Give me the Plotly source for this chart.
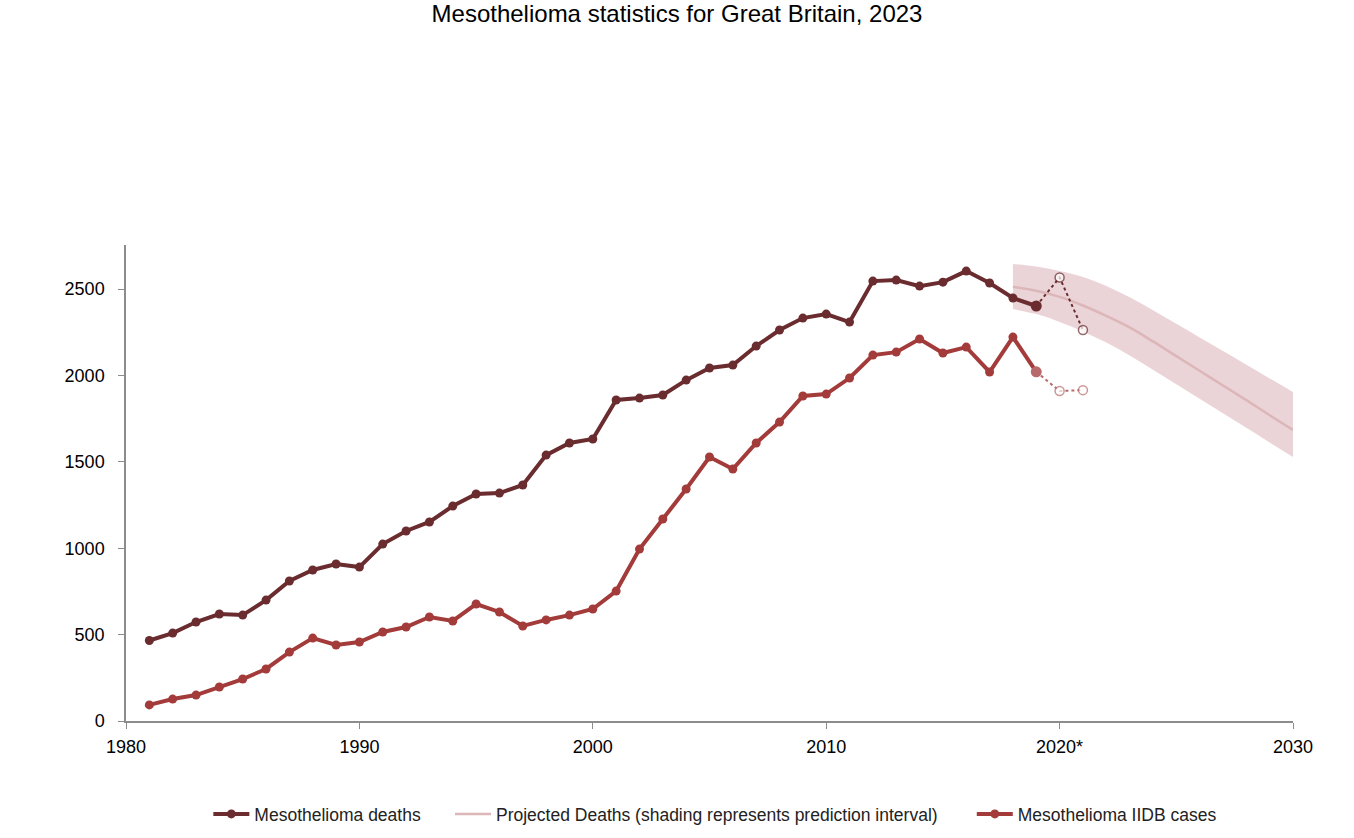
import plotly.graph_objects as go

years = list(range(1981, 2020))
deaths = [466, 509, 573, 619, 613, 700, 810, 874, 909, 891,
          1024, 1100, 1152, 1244, 1314, 1319, 1366, 1539, 1609, 1632,
          1858, 1869, 1887, 1973, 2043, 2060, 2170, 2263, 2332, 2355,
          2309, 2546, 2552, 2517, 2540, 2604, 2535, 2448, 2402]
deaths_prov_years = [2019, 2020, 2021]
deaths_prov = [2402, 2567, 2263]

iidb_years = list(range(1981, 2019))
iidb = [93, 127, 150, 197, 243, 301, 399, 480, 440, 457,
        515, 544, 602, 579, 677, 631, 550, 585, 613, 648,
        752, 995, 1169, 1343, 1528, 1458, 1609, 1730, 1881, 1892,
        1985, 2118, 2135, 2211, 2130, 2164, 2020, 2222]
iidb_last_year = [2019]
iidb_last = [2021]
iidb_prov_years = [2019, 2020, 2021]
iidb_prov = [2021, 1910, 1915]

proj_years = list(range(2018, 2031))
proj_central = [2513, 2490, 2455, 2405, 2345, 2278, 2197, 2112, 2027, 1942, 1857, 1770, 1684]
proj_upper = [2645, 2630, 2605, 2570, 2518, 2452, 2378, 2299, 2220, 2141, 2062, 1983, 1904]
proj_lower = [2384, 2355, 2310, 2255, 2190, 2115, 2033, 1949, 1865, 1781, 1697, 1612, 1528]

x_tick_vals = [1980, 1990, 2000, 2010, 2020, 2030]
x_tick_text = ["1980", "1990", "2000", "2010", "2020*", "2030"]
y_tick_vals = [0, 500, 1000, 1500, 2000, 2500]

C_DEATH = "#6a2c2f"
C_IIDB = "#a23b39"
C_IIDB_LIGHT = "#b86a6a"
C_PROJ = "#dcb6b8"
C_BAND = "rgba(226,196,199,0.72)"

fig = go.Figure()

# Prediction interval band
fig.add_trace(go.Scatter(x=proj_years, y=proj_upper, mode="lines",
                         line=dict(width=0, color=C_BAND, shape="spline"), showlegend=False,
                         hoverinfo="skip"))
fig.add_trace(go.Scatter(x=proj_years, y=proj_lower, mode="lines",
                         line=dict(width=0, color=C_BAND, shape="spline"), fill="tonexty",
                         fillcolor=C_BAND, showlegend=False, hoverinfo="skip"))

# Deaths
fig.add_trace(go.Scatter(x=years, y=deaths, mode="lines+markers",
                         name="Mesothelioma deaths" + "\u00a0" * 5,
                         line=dict(color=C_DEATH, width=4),
                         marker=dict(color=C_DEATH, size=9)))
# Projected central line
fig.add_trace(go.Scatter(x=proj_years, y=proj_central, mode="lines",
                         name="Projected Deaths (shading represents prediction interval)" + "\u00a0" * 6,
                         line=dict(color=C_PROJ, width=2.5, shape="spline")))
# IIDB cases
fig.add_trace(go.Scatter(x=iidb_years, y=iidb, mode="lines+markers",
                         name="Mesothelioma IIDB cases",
                         line=dict(color=C_IIDB, width=4),
                         marker=dict(color=C_IIDB, size=9)))
fig.add_trace(go.Scatter(x=[iidb_years[-1]] + iidb_last_year, y=[iidb[-1]] + iidb_last,
                         mode="lines", line=dict(color=C_IIDB, width=4),
                         showlegend=False))
fig.add_trace(go.Scatter(x=iidb_prov_years, y=iidb_prov, mode="lines+markers",
                         line=dict(color=C_IIDB_LIGHT, width=2, dash="dot"),
                         marker=dict(color=["rgba(0,0,0,0)", "white", "white"], size=[0, 9, 9],
                                     line=dict(color=C_IIDB_LIGHT, width=1.5)),
                         showlegend=False))
fig.add_trace(go.Scatter(x=iidb_last_year, y=iidb_last, mode="markers",
                         marker=dict(color=C_IIDB_LIGHT, size=11), showlegend=False))
# Deaths provisional
fig.add_trace(go.Scatter(x=deaths_prov_years, y=deaths_prov, mode="lines+markers",
                         line=dict(color=C_DEATH, width=2, dash="dot"),
                         marker=dict(color=["rgba(0,0,0,0)", "white", "white"], size=[0, 9, 9],
                                     line=dict(color=C_DEATH, width=1.5)),
                         showlegend=False))
fig.add_trace(go.Scatter(x=[years[-1]], y=[deaths[-1]], mode="markers",
                         marker=dict(color=C_DEATH, size=11), showlegend=False))

fig.update_layout(
    width=1354, height=838,
    paper_bgcolor="white", plot_bgcolor="white",
    margin=dict(l=126, r=61, t=245, b=117),
    title=dict(text="Mesothelioma statistics for Great Britain, 2023",
               x=0.5, xanchor="center", y=1 - 14 / 838, yanchor="middle",
               font=dict(family="Arial, Liberation Sans", size=24, color="black")),
    font=dict(family="Arial, Liberation Sans", size=16, color="#222"),
    showlegend=True,
    legend=dict(orientation="h", x=0.505, xref="paper", xanchor="center",
                yref="container", y=1 - 814 / 838, yanchor="middle",
                traceorder="normal",
                font=dict(family="Arial, Liberation Sans", size=17.5, color="#222"),
                itemwidth=36, tracegroupgap=0),
    xaxis=dict(range=[1980, 2030], tickvals=x_tick_vals, ticktext=x_tick_text,
               showgrid=False, zeroline=False, showline=True, linecolor="#8c8c8c",
               linewidth=1.5, ticks="outside", tickcolor="#8c8c8c", ticklen=6,
               ticklabelstandoff=3,
               tickfont=dict(size=18, color="black")),
    yaxis=dict(range=[0, 2755], tickvals=y_tick_vals, showgrid=False, zeroline=False,
               showline=True, linecolor="#8c8c8c", linewidth=1.5, ticks="outside",
               tickcolor="#8c8c8c", ticklen=6, ticklabelstandoff=10,
               tickfont=dict(size=18, color="black")),
)

fig.write_html("out.html")
